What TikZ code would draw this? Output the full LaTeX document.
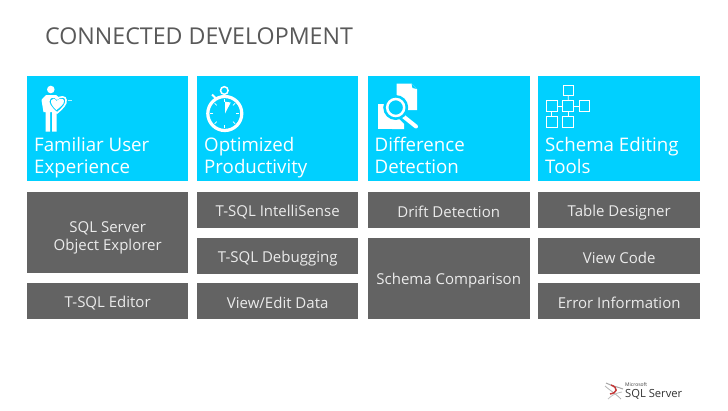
\documentclass[tikz,border=0pt]{standalone}
\usepackage{fontspec}
\setmainfont{Open Sans}
\usepackage{tikz}
\usetikzlibrary{positioning}
\definecolor{tilecolor}{RGB}{0, 208, 255}
\definecolor{itemcolor}{RGB}{99, 99, 99}
\definecolor{titlecolor}{RGB}{89, 89, 89}
\definecolor{itemtext}{RGB}{235, 235, 235}
\newcommand{\itemstrut}{\rule[-1pt]{0pt}{17pt}}
\newcommand{\headstrut}{\rule[-7.5pt]{0pt}{15pt}}

\begin{document}
\begin{tikzpicture}[
    x=1pt, y=-1pt,
    tile/.style={rectangle, fill=tilecolor, minimum width=161pt, minimum height=105pt, inner sep=0pt, anchor=north west},
    heading/.style={text=white, font=\fontsize{18.7}{22}\selectfont, align=left, anchor=south west, inner sep=0pt, xshift=7pt, execute at end node=\headstrut},
    item/.style={rectangle, fill=itemcolor, text=itemtext, minimum width=161pt, minimum height=36pt, inner sep=0pt, anchor=north west, align=center, font=\fontsize{15}{20}\selectfont, execute at begin node=\itemstrut, execute at end node=\itemstrut},
    tall/.style={item, minimum height=81pt},
    cell/.style={rectangle, draw=white, line width=0.8pt, minimum width=10.5pt, minimum height=10.5pt, inner sep=0pt},
    link/.style={draw=white, line width=0.8pt}
]
    \useasboundingbox (0,0) rectangle (728,410);
    \fill[white] (0,0) rectangle (728,410);

    % Title
    \node[anchor=west, inner sep=0pt, text=titlecolor, font=\fontsize{23.2}{28}\selectfont] (title) at (45,36) {CONNECTED DEVELOPMENT};

    % Tiles
    \node[tile] (familiar) at (27,76) {};
    \node[tile] (optimized) at (197,76) {};
    \node[tile, minimum width=162pt] (difference) at (367.5,76) {};
    \node[tile, minimum width=162pt] (schema) at (538,76) {};

    \node[heading] (familiartext) at (familiar.south west) {Familiar User\\Experience};
    \node[heading] (optimizedtext) at (optimized.south west) {Optimized\\Productivity};
    \node[heading] (differencetext) at (difference.south west) {Difference\\Detection};
    \node[heading] (schematext) at (schema.south west) {Schema Editing\\Tools};

    % Items
    \node[tall, font=\fontsize{15}{19}\selectfont] (explorer) at (27,192) {\rule{0pt}{21pt}SQL Server\\[-1pt]\rule{0pt}{14pt}Object Explorer};
    \node[item] (editor) at (27,283) {T-SQL Editor};

    \node[item] (intellisense) at (197,192) {T-SQL IntelliSense};
    \node[item] (debugging) at (197,238) {T-SQL Debugging};
    \node[item] (viewedit) at (197,283) {View/Edit Data};

    \node[item, minimum width=162pt] (drift) at (367.5,192) {Drift Detection};
    \node[tall, minimum width=162pt] (comparison) at (367.5,238) {Schema Comparison};

    \node[item, minimum width=162pt] (designer) at (538,192) {Table Designer};
    \node[item, minimum width=162pt] (viewcode) at (538,238) {View Code};
    \node[item, minimum width=162pt] (errorinfo) at (538,283) {Error Information};

    % Person icon
    \fill[white] (50.8,89.5) circle (3.8);
    \fill[white] (43,98) -- (46,95) -- (56,95) -- (60,98) -- (56.5,106) -- (56.5,131.5) -- (52,131.5) -- (52,112) -- (50,112) -- (50,131.5) -- (45.5,131.5) -- (45.5,112) -- (43.5,112) -- (41.5,100) -- cycle;
    \draw[white, line width=1.6pt, fill=tilecolor] (57,113) .. controls (50,107) and (48,103) .. (49,100) .. controls (50,96) and (55,96) .. (57,99) .. controls (60,96) and (66,96) .. (66,100) .. controls (67,104) and (62,109) .. (57,113) -- cycle;
    \fill[white] (56.5,110) .. controls (52,106) and (50.5,103) .. (51,100.5) .. controls (52,98) and (55,98) .. (56.5,101) .. controls (59,98) and (64,98) .. (64,101) .. controls (64.5,104) and (60,107) .. (56.5,110) -- cycle;
    \draw[white!70!tilecolor, line width=0.5pt] (68,100) -- (72,100);

    % Stopwatch icon
    \draw[white, line width=1.5pt] (224.3,90.5) circle (3.8);
    \draw[white, line width=2pt] (212,94.5) -- (216,98.5);
    \fill[white] (225,113.5) -- (225,101.7) -- (230.7,102.5) -- cycle;
    \draw[white, line width=3.2pt] (224.8,113.5) circle (17);
    \foreach \ang in {0,45,90,135,180,225,270,315}
        \draw[white, line width=0.7pt] (224.8,113.5) ++(\ang:11.5) -- ++(\ang:3);

    % Magnifier icon
    \fill[white] (396.7,83.5) -- (411.5,83.5) -- (417,89) -- (417,110) -- (396.7,110) -- cycle;
    \fill[tilecolor] (411.5,83.5) -- (412.5,88) -- (417,89) -- cycle;
    \fill[white] (377.7,104) -- (392,104) -- (392,129) -- (377.7,129) -- cycle;
    \fill[white] (392,112) -- (404,124) -- (404,129) -- (392,129) -- cycle;
    \draw[tilecolor, line width=7pt, line cap=round] (403,116) -- (416,127);
    \draw[white, line width=4pt, line cap=round] (403.5,116.5) -- (416,126.5);
    \fill[tilecolor] (395.7,107.5) circle (12.5);
    \draw[white, line width=2.5pt] (395.7,107.5) circle (8.5);

    % Schema icon
    \node[cell] (top) at (568.5,90.5) {};
    \node[cell] (left) at (551.7,106) {};
    \node[cell] (middle) at (568,106) {};
    \node[cell] (right) at (584.5,106) {};
    \node[cell] (lowleft) at (551.7,121.7) {};
    \node[cell] (lowmiddle) at (568,121.7) {};
    \draw[link] (top) -- (middle);
    \draw[link] (left) -- (middle);
    \draw[link] (middle) -- (right);
    \draw[link] (left) -- (lowleft);
    \draw[link] (middle) -- (lowmiddle);

    % Logo
    \draw[gray!70, line width=1pt] (606,383) .. controls (612,386) and (618,387) .. (623,389);
    \draw[gray!60, line width=0.8pt] (605,386) .. controls (612,392) and (616,394) .. (621,399);
    \draw[red!55!gray, line width=1.5pt] (611,385) .. controls (619,388) and (617,393) .. (610,394);
    \draw[gray!50, line width=0.8pt] (608,399) .. controls (612,395) and (616,393) .. (622,392);
    \node[anchor=south west, inner sep=0pt, text=black!75, font=\fontsize{5}{6}\selectfont] (microsoft) at (625,387) {Microsoft};
    \node[anchor=base west, inner sep=0pt, text=black!80, font=\fontsize{11.2}{14}\selectfont] (sqlserver) at (625,397.5) {SQL Server};
\end{tikzpicture}
\end{document}
